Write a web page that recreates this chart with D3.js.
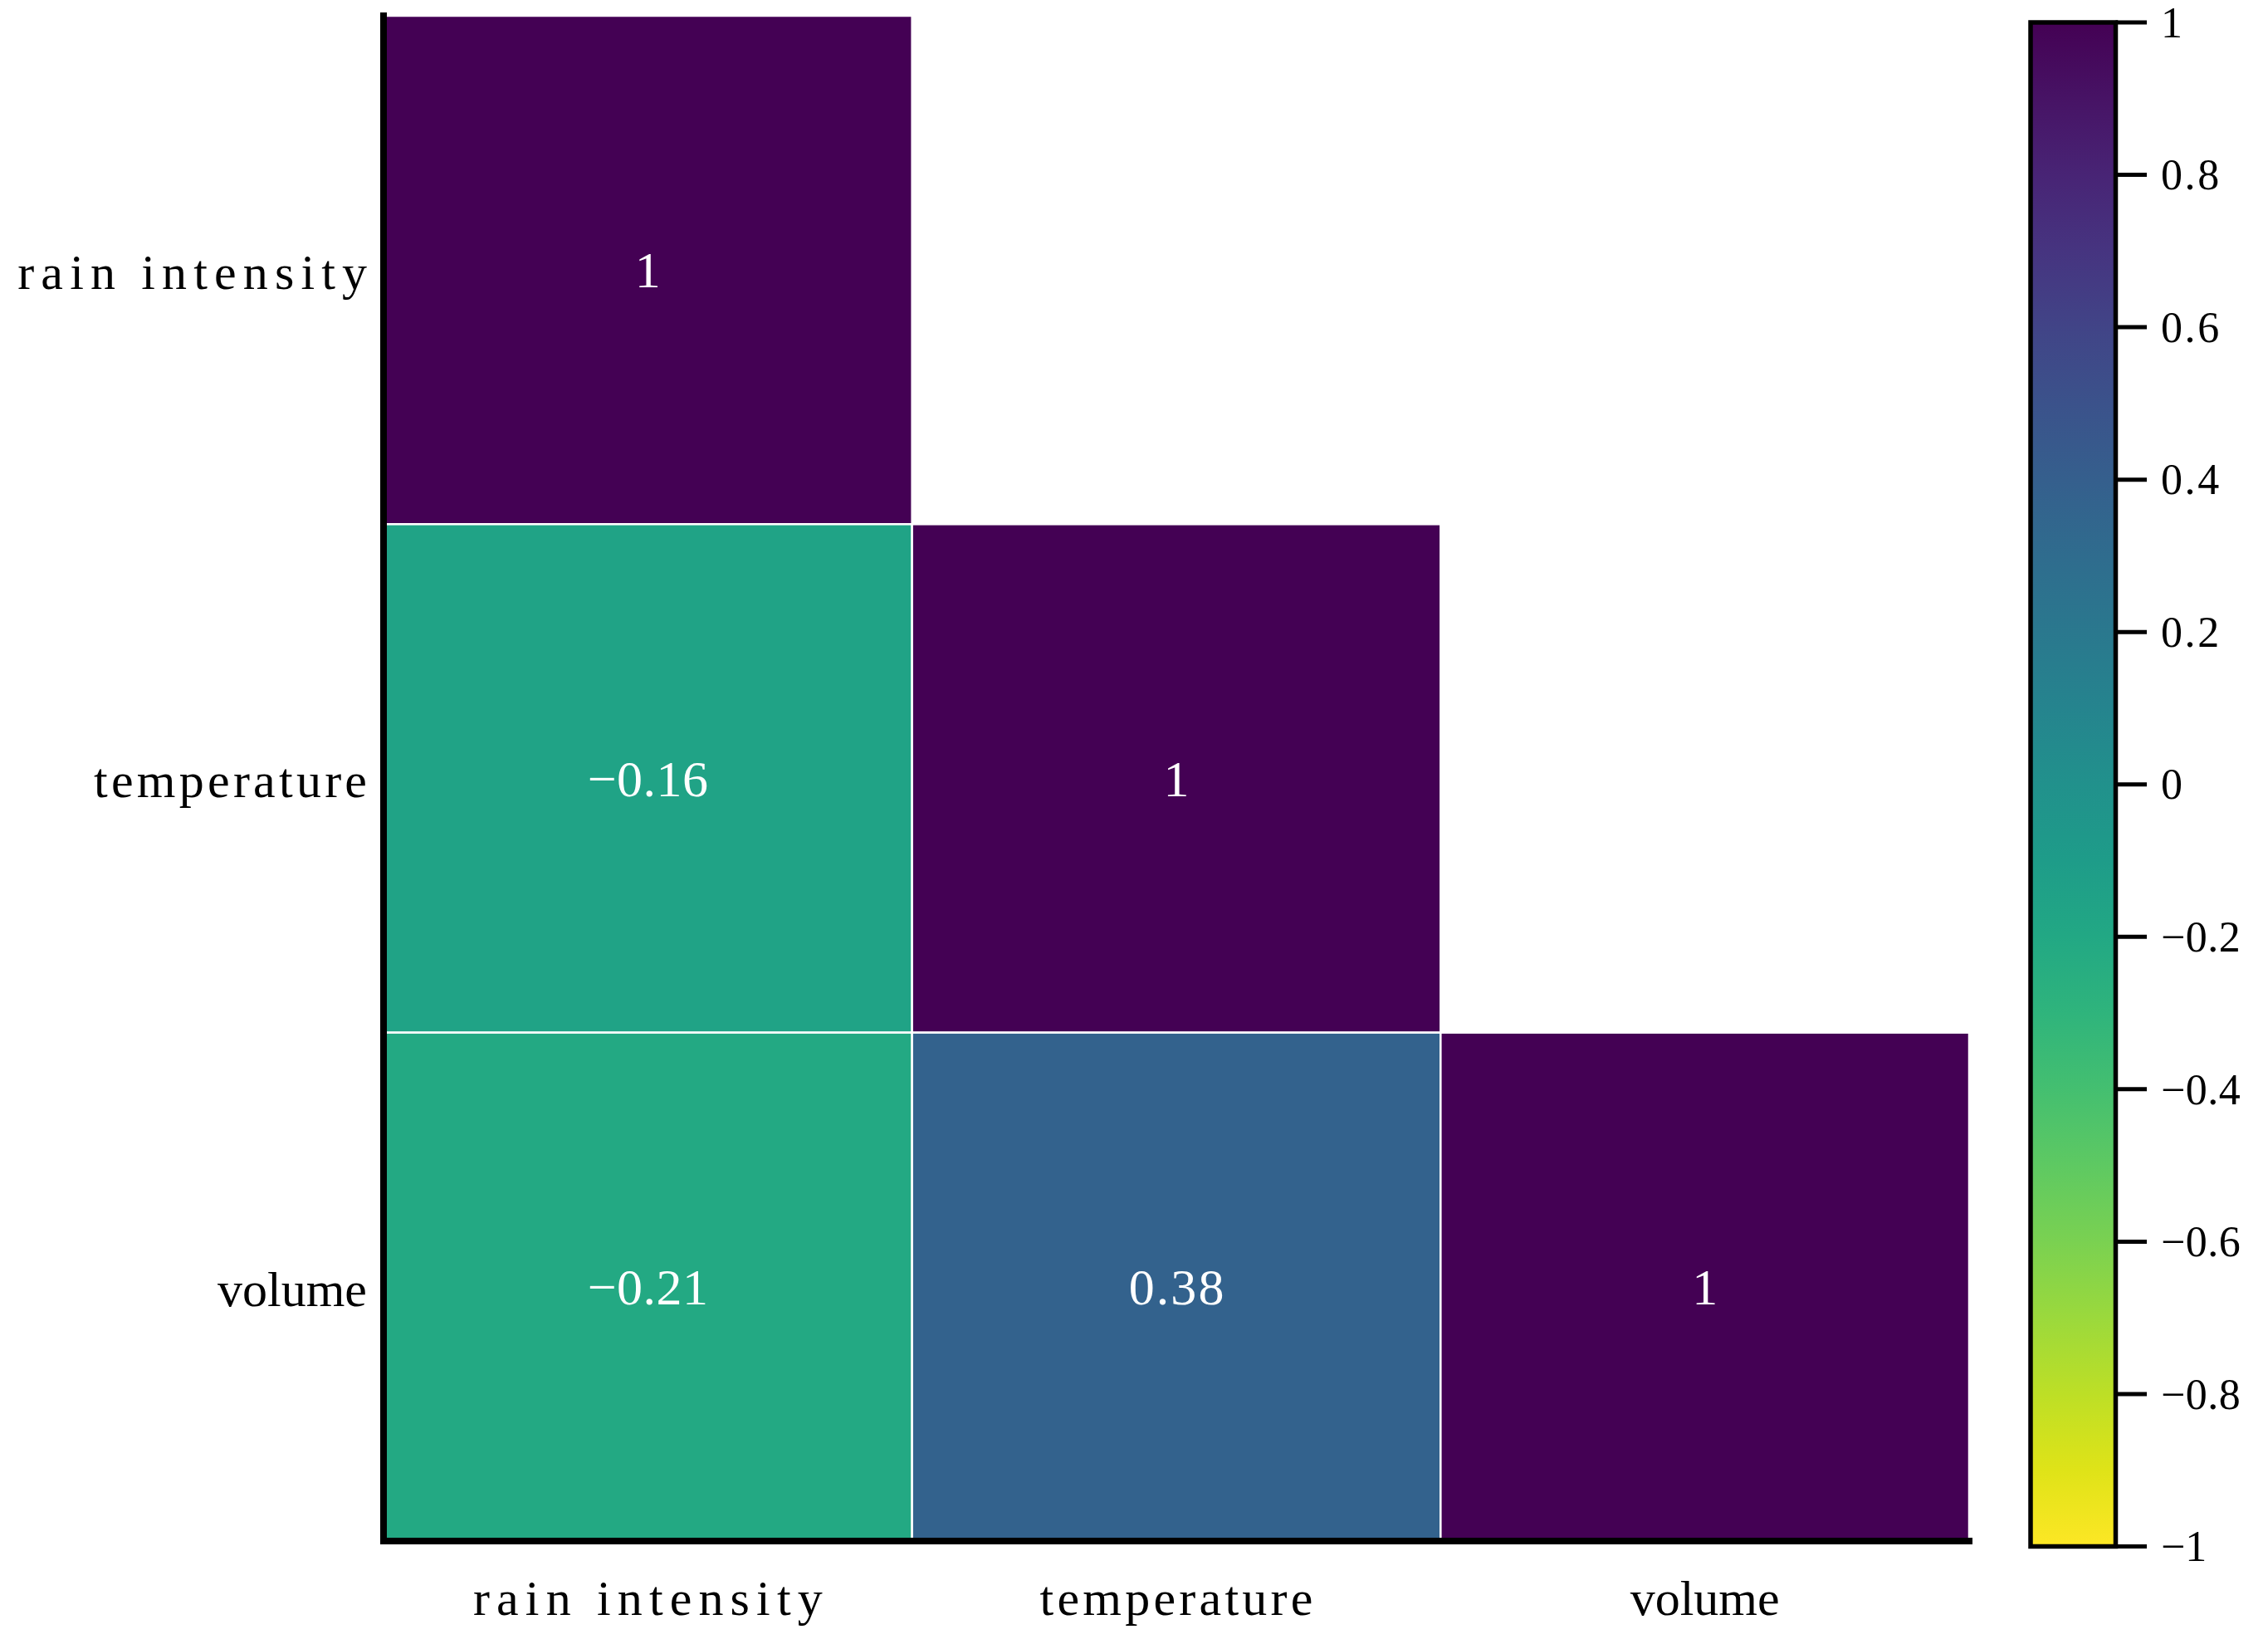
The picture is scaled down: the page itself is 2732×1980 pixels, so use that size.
<!DOCTYPE html>
<html lang="en">
  <script src="https://d3js.org/d3.v7.min.js"></script>
  <style>
    body {
      margin: 0;
      background: #fff;
    }
    text {
      font-family: "Liberation Serif", "DejaVu Serif", serif;
    }
  </style>
  <body>
    <svg width="2732" height="1980"></svg>
    <script>
      // variables of the correlation matrix (rows / columns)
      const variables = ["rain intensity", "temperature", "volume"];
      // lower triangle only, upper part is masked
      const rowRain = [1];
      const rowTemperature = [-0.16, 1];
      const rowVolume = [-0.21, 0.38, 1];
      const colorbarTicks = [1, 0.8, 0.6, 0.4, 0.2, 0, -0.2, -0.4, -0.6, -0.8, -1];

      const rows = [rowRain, rowTemperature, rowVolume];
      const cells = [];
      rows.forEach(function (r, i) {
        r.forEach(function (v, j) {
          cells.push({ row: variables[i], col: variables[j], value: v });
        });
      });

      const fmt = function (v) {
        return String(v).replace("-", "\u2212");
      };

      const svg = d3.select("svg");

      var x = d3.scaleBand().domain(variables).range([462, 2372]);
      var y = d3.scaleBand().domain(variables).range([19, 1856]);
      var color = d3.scaleSequential(d3.interpolateViridis).domain([1, -1]);

      // spread the letters out like the half-width SimSun latin
      // (only widen, never squeeze)
      function spread(sel, charW) {
        sel.each(function () {
          const t = d3.select(this);
          const n = t.text().length;
          if (n < 2) return;
          const target = n * charW - charW * 0.25;
          if (this.getComputedTextLength() < target) {
            t.attr("textLength", target).attr("lengthAdjust", "spacing");
          }
        });
      }

      svg
        .append("g")
        .selectAll("rect")
        .data(cells)
        .enter()
        .append("rect")
        .attr("x", (d) => x(d.col))
        .attr("y", (d) => y(d.row))
        .attr("width", x.bandwidth())
        .attr("height", y.bandwidth())
        .attr("fill", (d) => color(d.value))
        .attr("stroke", "#fff")
        .attr("stroke-width", 2.5);

      svg
        .append("g")
        .selectAll("text")
        .data(cells)
        .enter()
        .append("text")
        .attr("x", (d) => x(d.col) + x.bandwidth() / 2)
        .attr("y", (d) => y(d.row) + y.bandwidth() / 2)
        .attr("dy", "0.34em")
        .attr("text-anchor", "middle")
        .attr("font-size", 62)
        .attr("fill", "#fff")
        .text((d) => fmt(d.value))
        .call(spread, 30.6);

      // y axis labels
      svg
        .append("g")
        .selectAll("text")
        .data(variables)
        .enter()
        .append("text")
        .attr("x", 442)
        .attr("y", (d) => y(d) + y.bandwidth() / 2)
        .attr("dy", "0.38em")
        .attr("text-anchor", "end")
        .attr("font-size", 60)
        .attr("fill", "#000")
        .text((d) => d)
        .call(spread, 30.6);

      // x axis labels
      svg
        .append("g")
        .selectAll("text")
        .data(variables)
        .enter()
        .append("text")
        .attr("x", (d) => x(d) + x.bandwidth() / 2)
        .attr("y", 1945)
        .attr("text-anchor", "middle")
        .attr("font-size", 60)
        .attr("fill", "#000")
        .text((d) => d)
        .call(spread, 30.6);

      // thick left and bottom spines
      svg
        .append("rect")
        .attr("x", 458)
        .attr("y", 15)
        .attr("width", 8)
        .attr("height", 1845)
        .attr("fill", "#000");
      svg
        .append("rect")
        .attr("x", 458)
        .attr("y", 1852)
        .attr("width", 1918)
        .attr("height", 8)
        .attr("fill", "#000");

      // colorbar
      var cb = d3.scaleLinear().domain([-1, 1]).range([1862.5, 27]);

      const grad = svg
        .append("defs")
        .append("linearGradient")
        .attr("id", "cbgrad")
        .attr("x1", 0)
        .attr("y1", 1)
        .attr("x2", 0)
        .attr("y2", 0);
      grad
        .selectAll("stop")
        .data(d3.range(0, 1.0001, 0.05))
        .enter()
        .append("stop")
        .attr("offset", (t) => t)
        .attr("stop-color", (t) => color(-1 + 2 * t));

      svg
        .append("rect")
        .attr("x", 2446)
        .attr("y", cb(1))
        .attr("width", 102.5)
        .attr("height", cb(-1) - cb(1))
        .attr("fill", "url(#cbgrad)")
        .attr("stroke", "#000")
        .attr("stroke-width", 5.5);

      const cbAxis = svg.append("g");
      cbAxis
        .selectAll("line")
        .data(colorbarTicks)
        .enter()
        .append("line")
        .attr("x1", 2548.5)
        .attr("x2", 2586)
        .attr("y1", (d) => cb(d))
        .attr("y2", (d) => cb(d))
        .attr("stroke", "#000")
        .attr("stroke-width", 5);
      cbAxis
        .selectAll("text")
        .data(colorbarTicks)
        .enter()
        .append("text")
        .attr("x", 2603)
        .attr("y", (d) => cb(d))
        .attr("dy", "0.34em")
        .attr("font-size", 52)
        .attr("fill", "#000")
        .text((d) => fmt(d))
        .call(spread, 25.5);
    </script>
  </body>
</html>
